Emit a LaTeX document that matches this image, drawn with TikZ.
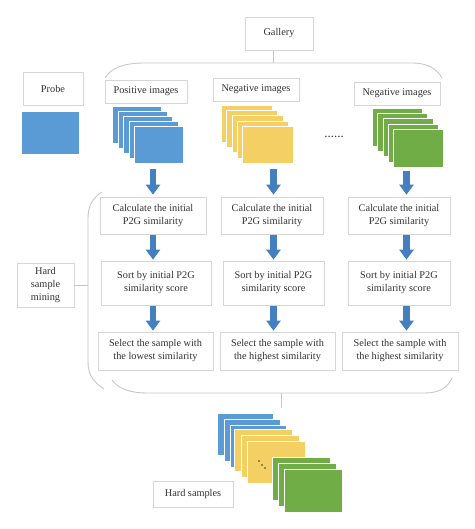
\documentclass[tikz,border=0pt]{standalone}
\usepackage{fontspec}
\setmainfont{Liberation Serif}
\usetikzlibrary{arrows.meta,calc}
\definecolor{cardblue}{HTML}{5B9BD5}
\definecolor{cardyellow}{HTML}{F4CF63}
\definecolor{cardgreen}{HTML}{70AD47}
\definecolor{arrblue}{HTML}{4480C0}
\definecolor{boxline}{HTML}{D6D6D6}
\definecolor{braceline}{HTML}{C8C8C8}
\definecolor{txt}{HTML}{333333}
\tikzset{
  box/.style={draw=boxline, line width=0.7pt, fill=white, text=txt, align=center, inner sep=0pt,
    font=\fontsize{10.3}{13}\selectfont},
  card/.style={draw=white, line width=0.6pt, anchor=north west, inner sep=0pt},
  bigarrow/.style={draw=arrblue, line width=6.5pt, -{Triangle[width=14pt,length=10pt]}},
  brace/.style={draw=braceline, line width=0.9pt},
}
\begin{document}
\begin{tikzpicture}[x=1pt,y=-1pt]
\useasboundingbox (0,0) rectangle (474,529);
\fill[white] (0,0) rectangle (474,529);

% top nodes
\node[box, minimum width=68pt, minimum height=33pt] (gallery) at (279,33.5) {Gallery};
\node[box, minimum width=60pt, minimum height=33pt] (probe) at (53,88.5) {Probe};
\node[fill=cardblue, minimum width=57pt, minimum height=42pt, inner sep=0pt] (probeimg) at (50.5,133) {};
\node[box, minimum width=82pt, minimum height=23pt] (pos) at (146,91.5) {Positive images};
\node[box, minimum width=86pt, minimum height=23pt] (neg1) at (256,89.5) {Negative images};
\node[box, minimum width=86pt, minimum height=23pt] (neg2) at (397,93.5) {Negative images};

% top brace
\coordinate (topmid) at (273,63);
\draw[brace] (105,78) .. controls (112,67) and (125,63) .. (145,63) -- (412,63) .. controls (428,63) and (437,69) .. (442,78);
\draw[brace] (gallery.south -| topmid) -- (topmid);

% card stacks
\foreach \i in {1,...,5} {
  \node[card, fill=cardblue, minimum width=49pt, minimum height=37pt] (bs\i) at ({112+5.5*(\i-1)},{106+5*(\i-1)}) {};
  \node[card, fill=cardyellow, minimum width=51pt, minimum height=37pt] (ys\i) at ({221+5.25*(\i-1)},{105+5.25*(\i-1)}) {};
  \node[card, fill=cardgreen, minimum width=50pt, minimum height=38pt] (gs\i) at ({372+5.25*(\i-1)},{108+5.25*(\i-1)}) {};
}
\node[text=txt, font=\fontsize{13}{14}\selectfont, inner sep=0pt] (dots) at (334,137) {......};

% process boxes
\node[box, minimum width=106pt, minimum height=37pt] (calc1) at (153,215.5) {Calculate the initial\\P2G similarity};
\node[box, minimum width=102pt, minimum height=37pt] (calc2) at (272,215.5) {Calculate the initial\\P2G similarity};
\node[box, minimum width=102pt, minimum height=37pt] (calc3) at (399,215.5) {Calculate the initial\\P2G similarity};
\node[box, minimum width=110pt, minimum height=44pt] (sort1) at (156,283) {Sort by initial P2G\\similarity score};
\node[box, minimum width=101pt, minimum height=44pt] (sort2) at (273.5,283) {Sort by initial P2G\\similarity score};
\node[box, minimum width=102pt, minimum height=44pt] (sort3) at (399,283) {Sort by initial P2G\\similarity score};
\node[box, minimum width=115pt, minimum height=38pt] (sel1) at (155.5,351) {Select the sample with\\the lowest similarity};
\node[box, minimum width=115pt, minimum height=38pt] (sel2) at (277.5,351) {Select the sample with\\the highest similarity};
\node[box, minimum width=116pt, minimum height=38pt] (sel3) at (400,351) {Select the sample with\\the highest similarity};

% arrow columns
\coordinate (ax1) at ($(calc1.north)+(0,0)$);
\coordinate (ax2) at ($(calc2.north)+(1.5,0)$);
\coordinate (ax3) at ($(calc3.north)+(7.5,0)$);
\draw[bigarrow, shorten <=5pt, shorten >=2pt] (ax1 |- bs5.south) -- (ax1);
\draw[bigarrow, shorten <=5pt, shorten >=2pt] (ax2 |- ys5.south) -- (ax2);
\draw[bigarrow, shorten <=3pt, shorten >=2pt] (ax3 |- gs5.south) -- (ax3);
\draw[bigarrow, shorten <=1pt, shorten >=1pt] (ax1 |- calc1.south) -- (ax1 |- sort1.north);
\draw[bigarrow, shorten <=1pt, shorten >=1pt] (ax2 |- calc2.south) -- (ax2 |- sort2.north);
\draw[bigarrow, shorten <=1pt, shorten >=1pt] (ax3 |- calc3.south) -- (ax3 |- sort3.north);
\draw[bigarrow, shorten <=1pt, shorten >=1pt] (ax1 |- sort1.south) -- (ax1 |- sel1.north);
\draw[bigarrow, shorten <=1pt, shorten >=1pt] (ax2 |- sort2.south) -- (ax2 |- sel2.north);
\draw[bigarrow, shorten <=1pt, shorten >=1pt] (ax3 |- sort3.south) -- (ax3 |- sel3.north);

% hard sample mining and left bracket
\node[box, minimum width=57pt, minimum height=44pt] (hsm) at (45.5,285) {Hard\\sample\\mining};
\coordinate (lb) at (88,285);
\draw[brace] (102,192) .. controls (93,198) and (88,205) .. (88,218) -- (88,362) .. controls (88,374) and (93,382) .. (104,389);
\draw[brace] (hsm.east) -- (lb);

% bottom brace
\coordinate (botmid) at (281,393);
\draw[brace] (112,380) .. controls (118,388) and (128,393) .. (148,393) -- (425,393) .. controls (440,393) and (448,387) .. (452,378);
\draw[brace] (botmid) -- ++(0,15);

% hard samples stack
\node[card, fill=cardblue, minimum width=56pt, minimum height=42pt] (hb1) at (217,413) {};
\node[card, fill=cardblue, minimum width=56pt, minimum height=42pt] (hb2) at (223.5,419) {};
\node[card, fill=cardblue, minimum width=56pt, minimum height=42pt] (hb3) at (230,425) {};
\node[card, fill=cardyellow, minimum width=58pt, minimum height=42pt] (hy1) at (234,429) {};
\node[card, fill=cardyellow, minimum width=58pt, minimum height=42pt] (hy2) at (240.5,435) {};
\node[card, fill=cardyellow, minimum width=58pt, minimum height=42pt] (hy3) at (247,441) {};
\node[card, fill=cardgreen, minimum width=58pt, minimum height=43pt] (hg1) at (272,457) {};
\node[card, fill=cardgreen, minimum width=58pt, minimum height=43pt] (hg2) at (278,463) {};
\node[card, fill=cardgreen, minimum width=58pt, minimum height=43pt] (hg3) at (284,469) {};
\fill[black!80] (259,461) circle (0.8) (262,465) circle (0.8) (265,468) circle (0.8);

\node[box, minimum width=80pt, minimum height=26pt] (hs) at (193,494) {Hard samples};
\end{tikzpicture}
\end{document}
